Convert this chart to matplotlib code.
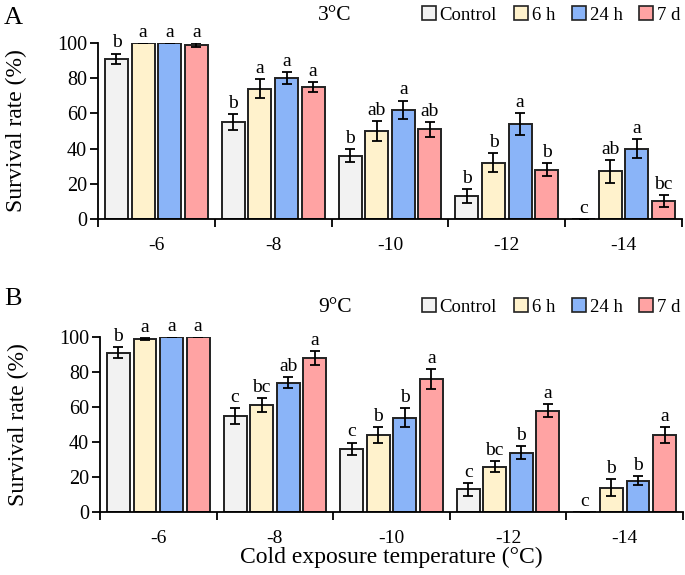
import matplotlib
matplotlib.use("Agg")
import matplotlib.pyplot as plt
import numpy as np
from matplotlib.patches import Patch

plt.rcParams['font.family'] = ['Liberation Serif', 'DejaVu Serif']

temps = ['-6', '-8', '-10', '-12', '-14']
groups = ['Control', '6 h', '24 h', '7 d']
colors = ['#F2F2F2', '#FFF2CC', '#8AB4F8', '#FFA3A3']

# panel A, 3 °C acclimation
a_vals = [[91, 55, 36, 13, 0],
          [100, 74, 50, 32, 27],
          [100, 80, 62, 54, 40],
          [99, 75, 51, 28, 10]]
a_errs = [[3, 4.5, 3.6, 3.8, 0],
          [0, 5.3, 5.5, 5.3, 6.4],
          [0, 3.4, 5.3, 6.2, 5.4],
          [1, 2.8, 4.2, 3.8, 3.4]]
a_lets = [['b', 'b', 'b', 'b', 'c'],
          ['a', 'a', 'ab', 'b', 'ab'],
          ['a', 'a', 'a', 'a', 'a'],
          ['a', 'a', 'ab', 'b', 'bc']]

# panel B, 9 °C acclimation
b_vals = [[91, 55, 36, 13, 0],
          [99, 61, 44, 26, 14],
          [100, 74, 54, 34, 18],
          [100, 88, 76, 58, 44]]
b_errs = [[3.2, 4.6, 3.7, 3.8, 0],
          [0.5, 3.9, 4.6, 3.0, 4.6],
          [0, 3.0, 5.5, 3.9, 2.5],
          [0, 4.1, 5.7, 3.6, 4.6]]
b_lets = [['b', 'c', 'c', 'c', 'c'],
          ['a', 'bc', 'b', 'bc', 'b'],
          ['a', 'ab', 'b', 'b', 'b'],
          ['a', 'a', 'a', 'a', 'a']]

W, H = 685, 575
fig = plt.figure(figsize=(W / 100, H / 100), dpi=100)


def px_axes(l, r, b, t):
    return fig.add_axes([l / W, 1 - b / H, (r - l) / W, (b - t) / H])


def panel(ax, vals, errs, lets):
    x = np.arange(len(temps))
    pitch, width = 0.228, 0.197
    for j in range(len(groups)):
        xs = x + (j - 1.5) * pitch
        ax.bar(xs, vals[j], width, color=colors[j], edgecolor='#222222',
               linewidth=1.4, zorder=2)
        ax.errorbar(xs, vals[j], yerr=errs[j], fmt='none', ecolor='black',
                    elinewidth=1.3, capsize=3.5, capthick=1.3, zorder=3)
        for xi, v, e, s in zip(xs, vals[j], errs[j], lets[j]):
            ax.annotate(s, (xi, v + e), xytext=(0, 1.5), textcoords='offset points',
                        ha='center', va='bottom', fontsize=14)
    ax.set_xlim(-0.5, len(temps) - 0.5)
    ax.set_ylim(0, 100)
    ax.set_yticks(range(0, 101, 20))
    ax.set_xticks(x)
    ax.set_xticklabels(temps)
    ax.set_xticks(np.arange(-0.5, len(temps)), minor=True)
    ax.tick_params(axis='x', which='major', length=0, labelsize=14, pad=13)
    ax.tick_params(axis='x', which='minor', length=6, width=1.3, direction='out')
    ax.tick_params(axis='y', length=6, width=1.3, labelsize=14.5, pad=2)
    for s in ['top', 'right']:
        ax.spines[s].set_visible(False)
    for s in ['left', 'bottom']:
        ax.spines[s].set_linewidth(1.3)
    ax.set_ylabel('Survival rate (%)', fontsize=17)
    ax.yaxis.set_label_coords(-0.122, 0.5)


axA = px_axes(98, 682, 219, 43)
panel(axA, a_vals, a_errs, a_lets)
axB = px_axes(100, 683, 512, 337)
panel(axB, b_vals, b_errs, b_lets)
axB.set_xlabel('Cold exposure temperature (°C)', fontsize=17, labelpad=0)

handles = [Patch(facecolor=c, edgecolor='#222222', linewidth=1.2) for c in colors]
for ytop, title, letter, ylet in [(15, '3°C', 'A', 18), (307, '9°C', 'B', 299)]:
    fig.text(335 / W, 1 - ytop / H, title, ha='center', va='center', fontsize=15.5)
    fig.text(13 / W, 1 - ylet / H, letter, ha='center', va='center', fontsize=19)
    fig.legend(handles, groups, loc='center right', bbox_to_anchor=(688 / W, 1 - ytop / H),
               ncol=4, frameon=False, fontsize=13.5, handlelength=0.75, handleheight=0.75,
               handletextpad=0.2, columnspacing=0.9, borderaxespad=0)

fig.savefig('out.png', dpi=100)
